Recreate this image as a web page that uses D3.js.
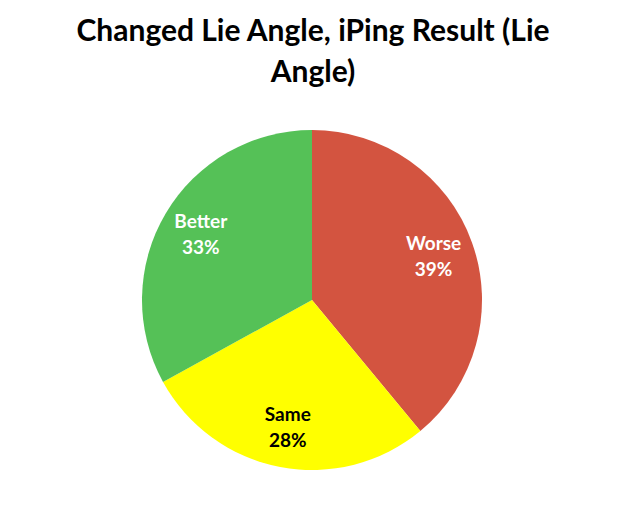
<!DOCTYPE html>
<html><head><meta charset="utf-8">
<script src="https://cdn.jsdelivr.net/npm/d3@7"></script>
<style>body{margin:0;background:#fff}</style>
</head><body>
<script>
const categories = ["Worse", "Same", "Better"];
const values = [39, 28, 33];
const colors = ["#D35440", "#FFFF00", "#55C157"];
const labelColors = ["#FFFFFF", "#000000", "#FFFFFF"];
const titleLines = ["Changed Lie Angle, iPing Result (Lie", "Angle)"];

const W = 625, H = 512;
const svg = d3.select("body").append("svg").attr("width", W).attr("height", H);
const font = "Lato, 'Open Sans', sans-serif";

svg.selectAll("text.title").data(titleLines).join("text")
  .attr("class", "title")
  .attr("x", 313).attr("y", (d, i) => 41 + i * 41)
  .attr("text-anchor", "middle")
  .style("font-family", font).style("font-weight", "bold").style("font-size", "30px")
  .text(d => d);

const cx = 312, cy = 300, r = 170;
const data = categories.map((c, i) => ({ c, v: values[i], i }));
const pie = d3.pie().value(d => d.v).sort(null);
const arc = d3.arc().innerRadius(0).outerRadius(r);
const labelArc = d3.arc().innerRadius(r * 0.76).outerRadius(r * 0.76);
const g = svg.append("g").attr("transform", `translate(${cx},${cy})`);
const arcs = pie(data);
g.selectAll("path").data(arcs).join("path")
  .attr("d", arc).attr("fill", d => colors[d.data.i]);

const lg = g.selectAll("g.lab").data(arcs).join("g").attr("class", "lab")
  .attr("transform", d => `translate(${labelArc.centroid(d)})`);
lg.append("text").attr("text-anchor", "middle").attr("y", -6)
  .style("font-family", font).style("font-weight", "bold").style("font-size", "19px")
  .attr("fill", d => labelColors[d.data.i]).text(d => d.data.c);
lg.append("text").attr("text-anchor", "middle").attr("y", 20)
  .style("font-family", font).style("font-weight", "bold").style("font-size", "19px")
  .attr("fill", d => labelColors[d.data.i]).text(d => d.data.v + "%");
</script>
</body></html>
